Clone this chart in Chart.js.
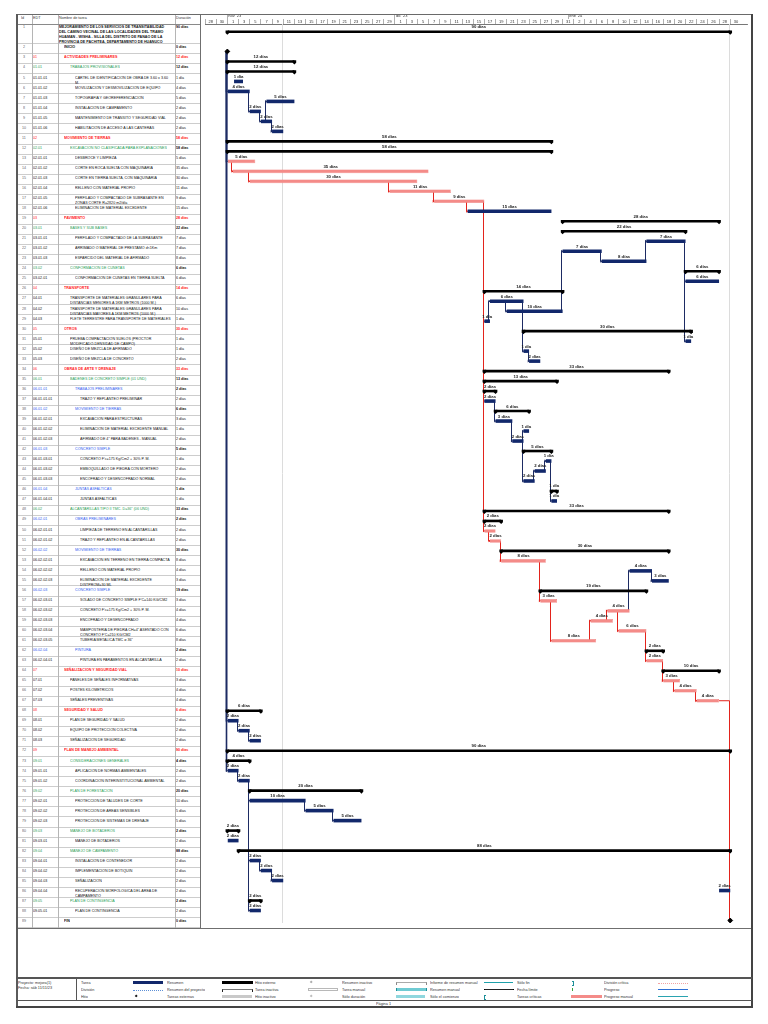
<!DOCTYPE html>
<html lang="es">
<head>
<meta charset="utf-8">
<title>Diagrama de Gantt</title>
<script src="https://cdn.jsdelivr.net/npm/chart.js@4.4.1/dist/chart.umd.min.js"></script>
<style>
  html, body { margin: 0; padding: 0; background: #fff; }
  body { font-family: "Liberation Sans", Arial, sans-serif; color: #222; }
  #page { position: relative; width: 768px; height: 1024px; overflow: hidden; }
  .ln { position: absolute; }
  .row { position: absolute; left: 16px; width: 184px; border-bottom: 1px solid #cdcdcd; box-sizing: border-box; }
  /* tiny text: drawn at double size and scaled down, so the browser keeps it this small */
  .cell, .hd, .lg { position: absolute; transform: scale(0.5); transform-origin: 0 0; white-space: pre; }
  .cell { top: 0.3px; font-size: 7.3px; line-height: 10px; }
  .hd { top: 15px; font-size: 7.4px; line-height: 10px; color: #333; }
  .lg { font-size: 7.6px; line-height: 10px; color: #333; }
  #gantt { position: absolute; left: 200px; top: 14px; }
</style>
</head>
<body>
<div id="page">
  <div id="table"></div>
  <div id="gantt"><canvas id="chart" width="552" height="914"></canvas></div>
  <div id="legend"></div>
</div>
<script>
// ---- data ----
const edt = ['', '', '01', '01.01', '01.01.01', '01.01.02', '01.01.03', '01.01.04', '01.01.05', '01.01.06',
  '02', '02.01', '02.01.01', '02.01.02', '02.01.03', '02.01.04', '02.01.05', '02.01.06',
  '03', '03.01', '03.01.01', '03.01.02', '03.01.03', '03.02', '03.02.01',
  '04', '04.01', '04.02', '04.03',
  '05', '05.01', '05.02', '05.03',
  '06', '06.01', '06.01.01', '06.01.01.01', '06.01.02', '06.01.02.01', '06.01.02.02', '06.01.02.03',
  '06.01.03', '06.01.03.01', '06.01.03.02', '06.01.03.03', '06.01.04', '06.01.04.01',
  '06.02', '06.02.01', '06.02.01.01', '06.02.01.02', '06.02.02', '06.02.02.01', '06.02.02.02', '06.02.02.03',
  '06.02.03', '06.02.03.01', '06.02.03.02', '06.02.03.03', '06.02.03.04', '06.02.03.05', '06.02.04', '06.02.04.01',
  '07', '07.01', '07.02', '07.03',
  '08', '08.01', '08.02', '08.03',
  '09', '09.01', '09.01.01', '09.01.02', '09.02', '09.02.01', '09.02.02', '09.02.03', '09.03', '09.03.01',
  '09.04', '09.04.01', '09.04.02', '09.04.03', '09.04.04', '09.05', '09.05.01', ''];

const taskNames = [
  'MEJORAMIENTO DE LOS SERVICIOS DE TRANSITABILIDAD\nDEL CAMINO VECINAL DE LAS LOCALIDADES DEL TRAMO\nHUAMAN - WISHA - SILLA DEL DISTRITO DE PANAO DE LA\nPROVINCIA DE PACHITEA, DEPARTAMENTO DE HUANUCO',
  'INICIO',
  'ACTIVIDADES PRELIMINARES',
  'TRABAJOS PROVISIONALES',
  'CARTEL DE IDENTIFICACION DE OBRA DE 3.60 x 3.60\nM.',
  'MOVILIZACION Y DESMOVILIZACION DE EQUIPO',
  'TOPOGRAFIA Y GEOREFERENCIACION',
  'INSTALACION DE CAMPAMENTO',
  'MANTENIMIENTO DE TRANSITO Y SEGURIDAD VIAL',
  'HABILITACION DE ACCESO A LAS CANTERAS',
  'MOVIMIENTO DE TIERRAS',
  'EXCAVACION NO CLASIFICADA PARA EXPLANACIONES',
  'DESBROCE Y LIMPIEZA',
  'CORTE EN ROCA SUELTA CON MAQUINARIA',
  'CORTE EN TIERRA SUELTA, CON MAQUINARIA',
  'RELLENO CON MATERIAL PROPIO',
  'PERFILADO Y COMPACTADO DE SUBRASANTE EN\nZONAS CORTE R=2820 m2/día',
  'ELIMINACION DE MATERIAL EXCEDENTE',
  'PAVIMENTO',
  'BASES Y SUB BASES',
  'PERFILADO Y COMPACTADO DE LA SUBRASANTE',
  'ARRIMADO O MATERIAL DE PRESTAMO d<1Km',
  'ESPARCIDO DEL MATERIAL DE AFIRMADO',
  'CONFORMACION DE CUNETAS',
  'CONFORMACION DE CUNETAS EN TIERRA SUELTA',
  'TRANSPORTE',
  'TRANSPORTE DE MATERIALES GRANULARES PARA\nDISTANCIAS MENORES A 1KM METROS (1000 M.)',
  'TRANSPORTE DE MATERIALES GRANULARES PARA\nDISTANCIAS MAYORES A 1KM METROS (1000 M.)',
  'FLETE TERRESTRE PARA TRANSPORTE DE MATERIALES',
  'OTROS',
  'PRUEBA COMPACTACION SUELOS (PROCTOR\nMODIFICADO-DENSIDAD DE CAMPO)',
  'DISEÑO DE MEZCLA DE AFIRMADO',
  'DISEÑO DE MEZCLA DE CONCRETO',
  'OBRAS DE ARTE Y DRENAJE',
  'BADENES DE CONCRETO SIMPLE (01 UND)',
  'TRABAJOS PRELIMINARES',
  'TRAZO Y REPLANTEO PRELIMINAR',
  'MOVIMIENTO DE TIERRAS',
  'EXCAVACION PARA ESTRUCTURAS',
  'ELIMINACION DE MATERIAL EXCEDENTE MANUAL',
  'AFIRMADO DE 4" PARA BADENES - MANUAL',
  'CONCRETO SIMPLE',
  "CONCRETO F'c=175 Kg/Cm2 + 30% P. M.",
  'EMBOQUILLADO DE PIEDRA CON MORTERO',
  'ENCOFRADO Y DESENCOFRADO NORMAL',
  'JUNTAS ASFALTICAS',
  'JUNTAS ASFALTICAS',
  'ALCANTARILLAS TIPO II TMC. D=36" (06 UND)',
  'OBRAS PRELIMINARES',
  'LIMPIEZA DE TERRENO EN ALCANTARILLAS',
  'TRAZO Y REPLANTEO EN ALCANTARILLAS',
  'MOVIMIENTO DE TIERRAS',
  'EXCAVACION EN TERRENO EN TIERRA COMPACTA',
  'RELLENO CON MATERIAL PROPIO',
  'ELIMINACION DE MATERIAL EXCEDENTE\nDISTPROM=30 ML',
  'CONCRETO SIMPLE',
  "SOLADO DE CONCRETO SIMPLE F'C=140 KG/CM2",
  "CONCRETO F'c=175 Kg/Cm2 + 30% P. M.",
  'ENCOFRADO Y DESENCOFRADO',
  "MAMPOSTERIA DE PIEDRA CH=4\" ASENTADO CON\nCONCRETO F'C=210 KG/CM2",
  'TUBERIA METALICA TMC ø 36"',
  'PINTURA',
  'PINTURA EN PARAMENTOS EN ALCANTARILLA',
  'SEÑALIZACION Y SEGURIDAD VIAL',
  'PANELES DE SEÑALES INFORMATIVAS',
  'POSTES KILOMETRICOS',
  'SEÑALES PREVENTIVAS',
  'SEGURIDAD Y SALUD',
  'PLAN DE SEGURIDAD Y SALUD',
  'EQUIPO DE PROTECCION COLECTIVA',
  'SEÑALIZACION DE SEGURIDAD',
  'PLAN DE MANEJO AMBIENTAL',
  'CONSIDERACIONES GENERALES',
  'APLICACION DE NORMAS AMBIENTALES',
  'COORDINACION INTERINSTITUCIONAL AMBIENTAL',
  'PLAN DE FORESTACION',
  'PROTECCION DE TALUDES DE CORTE',
  'PROTECCION DE AREAS SENSIBLES',
  'PROTECCION DE SISTEMAS DE DRENAJE',
  'MANEJO DE BOTADEROS',
  'MANEJO DE BOTADEROS',
  'MANEJO DE CAMPAMENTO',
  'INSTALACION DE CONTENEDOR',
  'IMPLEMENTACION DE BOTIQUIN',
  'SEÑALIZACION',
  'RECUPERACION MORFOLOGICA DEL AREA DE\nCAMPAMENTO',
  'PLAN DE CONTINGENCIA',
  'PLAN DE CONTINGENCIA',
  'FIN'
];

const durations = ['90 días', '0 días', '12 días', '12 días', '1 día', '4 días', '5 días', '2 días', '2 días', '2 días',
  '58 días', '58 días', '5 días', '35 días', '30 días', '11 días', '9 días', '15 días',
  '28 días', '22 días', '7 días', '7 días', '8 días', '6 días', '6 días',
  '14 días', '6 días', '10 días', '1 día',
  '30 días', '1 día', '1 día', '2 días',
  '33 días', '13 días', '2 días', '2 días', '6 días', '3 días', '1 día', '2 días', '5 días', '1 día', '2 días', '2 días', '1 día', '1 día',
  '33 días', '2 días', '2 días', '2 días', '30 días', '8 días', '4 días', '3 días', '19 días', '3 días', '4 días', '4 días', '6 días', '8 días', '2 días', '2 días',
  '10 días', '3 días', '4 días', '4 días',
  '6 días', '2 días', '2 días', '2 días',
  '90 días', '4 días', '2 días', '2 días', '20 días', '10 días', '5 días', '5 días', '2 días', '2 días', '88 días', '2 días', '2 días', '2 días', '2 días', '2 días', '2 días',
  '0 días'];

// start / finish of every bar, in days from the first project day
const starts = [0, 0, 0, 0, 1.2, 0, 7, 4, 6, 8,
  0, 0, 0, 1, 4, 29, 37, 43,
  60, 60, 75, 60, 67, 82, 82,
  46, 47, 50, 46,
  53, 82, 53, 54,
  46, 46, 46, 46, 48, 48, 53, 51, 53, 57, 55, 53, 58, 58,
  46, 46, 46, 47, 49, 49, 72, 76, 56, 56, 68, 65, 70, 58, 75, 75,
  78, 78, 80, 84,
  0, 0, 2, 4,
  0, 0, 0, 2, 4, 4, 14, 19, 0, 0, 2, 4, 6, 8, 88, 4, 4,
  90];
const ends = [90, 0, 12, 12, 2.8, 4, 12, 6, 8, 10,
  58, 58, 5, 36, 34, 40, 46, 58,
  88, 82, 82, 67, 75, 88, 88,
  60, 53, 60, 47,
  83, 83, 54, 56,
  79, 59, 48, 48, 54, 51, 54, 53, 58, 58, 57, 55, 59, 59,
  79, 49, 48, 49, 79, 57, 76, 79, 75, 59, 72, 69, 75, 66, 78, 78,
  88, 81, 84, 88,
  6, 2, 4, 6,
  90, 4, 2, 4, 24, 14, 19, 24, 2, 2, 90, 6, 8, 10, 90, 6, 6,
  90];

const criticalIds = [13, 14, 15, 16, 17, 50, 51, 53, 57, 58, 59, 60, 61, 63, 65, 66, 67];

const links = [[2, 6], [2, 13], [2, 69], [2, 74], [6, 8], [8, 9], [9, 7], [9, 10],
  [17, 29], [29, 27], [27, 28], [27, 32], [32, 33], [28, 22], [22, 23], [23, 21], [21, 25], [21, 31],
  [17, 37], [37, 39], [39, 41], [41, 40], [41, 45], [45, 44], [44, 43], [43, 47],
  [58, 54], [54, 55], [69, 70], [70, 71], [74, 75], [75, 77], [77, 78], [78, 79],
  [75, 83], [83, 84], [84, 85], [75, 88], [86, 89]];
const criticalLinks = [[13, 14], [14, 15], [15, 16], [16, 17], [17, 18], [17, 50], [50, 51], [51, 53],
  [53, 57], [57, 61], [61, 59], [59, 58], [58, 60], [60, 63], [63, 65], [65, 66], [66, 67], [67, 89]];

const dayTicks = ['28', '30',
  '1', '3', '5', '7', '9', '11', '13', '15', '17', '19', '21', '23', '25', '27', '29',
  '1', '3', '5', '7', '9', '11', '13', '15', '17', '19', '21', '23', '25', '27', '29', '31',
  '2', '4', '6', '8', '10', '12', '14', '16', '18', '20', '22', '24', '26', '28', '30'];
const monthLabels = ["nov '23", "dic '23", "ene '24"];
const monthStarts = [0, 30, 61];
const markerDays = [9.7, 89.8];

// ---- layout ----
const FONT = '"Liberation Sans", Arial, sans-serif';
const NAVY = '#12286b';
const SALMON = '#f48b88';
const RED = '#e3231c';
const SLOTS = 90;
const CANVAS_H = 914, HEADER_H = 10;
const ROW_H = (CANVAS_H - HEADER_H) / SLOTS;
const TABLE_TOP = 24;
const X_MIN = -4, X_MAX = 93;
const PX_DAY = 552 / (X_MAX - X_MIN);

const N = taskNames.length;
const level = edt.map((e, i) => e === '' ? (i === 0 ? 0 : 1) : e.split('.').length);
const isSummary = level.map((l, i) => i < N - 1 && level[i + 1] > l);
const isMilestone = durations.map(d => d === '0 días');
const ids = taskNames.map((_, i) => i + 1);

const slotOf = id => id === 1 ? 0 : id;
const barY = id => slotOf(id) + (id === 1 ? 0.78 : 0.75);
const labelY = id => slotOf(id) + 0.28;

function nameColor(i) {
  if (!isSummary[i] || level[i] === 0) return '#111';
  return level[i] === 1 ? '#ff1a1a' : level[i] === 2 ? '#1f9d55' : '#2f5cf0';
}

// ---- table (left side) ----
const page = document.getElementById('page');
const table = document.getElementById('table');
function add(parent, cls, style, text) {
  const d = document.createElement('div');
  if (cls) d.className = cls;
  Object.assign(d.style, style);
  if (text !== undefined) d.textContent = text;
  parent.appendChild(d);
  return d;
}
[['Id', { left: '21px' }], ['EDT', { left: '33px' }],
 ['Nombre de tarea', { left: '59px' }], ['Duración', { left: '176px' }]]
  .forEach(([t, s]) => add(table, 'hd', s, t));

ids.forEach(id => {
  const i = id - 1;
  const span = id === 1 ? 2 : 1;
  const r = add(table, 'row', { top: (TABLE_TOP + slotOf(id) * ROW_H) + 'px', height: (span * ROW_H) + 'px' });
  const col = nameColor(i);
  const bold = level[i] <= 1 && (isSummary[i] || isMilestone[i]);
  const idW = String(id).length * 2;
  add(r, 'cell', { left: (8 - idW / 2) + 'px', color: '#666' }, String(id));
  add(r, 'cell', { left: '17px', color: col }, edt[i]);
  add(r, 'cell', { left: (43 + level[i] * 5.3) + 'px', color: col, fontWeight: bold ? 'bold' : 'normal' }, taskNames[i]);
  const dCol = isSummary[i] && level[i] === 1 ? '#ff1a1a' : '#111';
  add(r, 'cell', { left: '160px', color: dCol, fontWeight: (isSummary[i] || isMilestone[i]) ? 'bold' : 'normal' }, durations[i]);
});

// frame and grid lines
const lines = [
  [32, 14, 0.8, 914, '#b5b5b5'], [58, 14, 0.8, 914, '#b5b5b5'], [175, 14, 0.8, 914, '#b5b5b5'],
  [16, 24, 184, 1, '#8a8a8a'], [200, 14, 1, 914, '#6f6f6f'],
  [16, 927.5, 736, 1, '#6f6f6f'],
  [16, 14, 736, 1, '#6a6a6a'], [16, 14, 1.5, 994, '#5a5a5a'], [750.5, 14, 2, 994, '#444'],
  [16, 1006, 736, 2, '#444'], [16, 977, 736, 1.5, '#555'], [16, 999.5, 736, 1.3, '#555'],
  [76, 977, 1, 23, '#555']
];
lines.forEach(([x, y, w, h, c]) => add(page, 'ln', { left: x + 'px', top: y + 'px', width: w + 'px', height: h + 'px', background: c, zIndex: 3 }));

// ---- Gantt (Chart.js) ----
const barData = list => list.map(id => ({ x: [starts[id - 1], ends[id - 1]], y: barY(id) }));
const summaryIds = ids.filter(id => isSummary[id - 1]);
const critIds = ids.filter(id => criticalIds.includes(id));
const taskIds = ids.filter(id => !isSummary[id - 1] && !isMilestone[id - 1] && !criticalIds.includes(id));
const msIds = ids.filter(id => isMilestone[id - 1]);

function trimScale(s, h) { s.height = h; s.paddingLeft = 0; s.paddingRight = 0; }

const ganttDecor = {
  id: 'ganttDecor',
  beforeDatasetsDraw(chart) {
    const { ctx, chartArea, scales: { x, y } } = chart;
    ctx.save();
    ctx.strokeStyle = '#dcdcdc';
    ctx.lineWidth = 1;
    markerDays.forEach(d => {
      const px = Math.round(x.getPixelForValue(d)) + 0.5;
      ctx.beginPath(); ctx.moveTo(px, chartArea.top); ctx.lineTo(px, chartArea.bottom); ctx.stroke();
    });
    const drawLink = ([a, b], color) => {
      const xe = x.getPixelForValue(ends[a - 1]);
      const xs = x.getPixelForValue(starts[b - 1]);
      const ya = y.getPixelForValue(barY(a));
      const yb = y.getPixelForValue(barY(b));
      const vx = Math.round(xs - 1.5) + 0.5;
      ctx.strokeStyle = color; ctx.fillStyle = color;
      ctx.lineWidth = isMilestone[a - 1] ? 1.6 : 1;
      ctx.beginPath();
      if (xe < vx) { ctx.moveTo(xe, ya); ctx.lineTo(vx, ya); } else { ctx.moveTo(vx, ya); }
      ctx.lineTo(vx, yb); ctx.lineTo(xs, yb);
      ctx.stroke();
      ctx.beginPath();
      ctx.moveTo(xs + 0.8, yb); ctx.lineTo(xs - 1.4, yb - 1.4); ctx.lineTo(xs - 1.4, yb + 1.4);
      ctx.closePath(); ctx.fill();
    };
    links.forEach(l => drawLink(l, '#1d2b63'));
    criticalLinks.forEach(l => drawLink(l, RED));
    ctx.restore();
  },
  afterDatasetsDraw(chart) {
    const { ctx, scales: { x, y } } = chart;
    ctx.save();
    // summary end caps
    ctx.fillStyle = '#000';
    summaryIds.forEach(id => {
      const yc = y.getPixelForValue(barY(id));
      [starts[id - 1], ends[id - 1]].forEach(v => {
        const px = x.getPixelForValue(v);
        ctx.beginPath();
        ctx.moveTo(px - 1.8, yc - 1.3); ctx.lineTo(px + 1.8, yc - 1.3); ctx.lineTo(px + 1.8, yc + 1.2);
        ctx.lineTo(px, yc + 3); ctx.lineTo(px - 1.8, yc + 1.2);
        ctx.closePath(); ctx.fill();
      });
    });
    // duration labels
    ctx.font = 'bold 4.3px ' + FONT;
    ctx.fillStyle = '#222';
    ctx.textAlign = 'center';
    ctx.textBaseline = 'middle';
    ids.forEach(id => {
      if (isMilestone[id - 1]) return;
      const cx = x.getPixelForValue((starts[id - 1] + ends[id - 1]) / 2);
      ctx.fillText(durations[id - 1], cx, y.getPixelForValue(labelY(id)));
    });
    ctx.restore();
  }
};

Chart.defaults.font.family = FONT;
new Chart(document.getElementById('chart'), {
  type: 'bar',
  data: {
    datasets: [
      { label: 'Resumen', data: barData(summaryIds), backgroundColor: '#000', maxBarThickness: 2.6, grouped: false, xAxisID: 'x', yAxisID: 'y' },
      { label: 'Tarea', data: barData(taskIds), backgroundColor: NAVY, maxBarThickness: 3.6, grouped: false, xAxisID: 'x', yAxisID: 'y' },
      { label: 'Tareas críticas', data: barData(critIds), backgroundColor: SALMON, borderColor: '#ee7370', borderWidth: 0.5, maxBarThickness: 3.6, grouped: false, xAxisID: 'x', yAxisID: 'y' },
      { type: 'scatter', label: 'Hito', data: msIds.map(id => ({ x: starts[id - 1], y: barY(id) })), pointStyle: 'rectRot', pointRadius: 2.4, backgroundColor: '#000', borderColor: '#000', xAxisID: 'x', yAxisID: 'y' }
    ]
  },
  options: {
    indexAxis: 'y',
    responsive: false,
    animation: false,
    layout: { padding: 0 },
    plugins: { legend: { display: false }, tooltip: { enabled: false } },
    scales: {
      x: {
        type: 'linear', position: 'top', min: X_MIN, max: X_MAX,
        afterBuildTicks: s => { s.ticks = dayTicks.map((_, i) => ({ value: X_MIN + 2 * i })); },
        afterFit: s => trimScale(s, 5),
        ticks: { autoSkip: false, maxRotation: 0, padding: -5, labelOffset: PX_DAY, color: '#333', font: { size: 4 }, callback: (v, i) => dayTicks[i] },
        grid: { drawOnChartArea: false, tickLength: 5, color: '#9c9c9c', lineWidth: 0.8 },
        border: { display: true, color: '#777', width: 1 }
      },
      xm: {
        type: 'linear', position: 'top', weight: 1, min: X_MIN, max: X_MAX,
        afterBuildTicks: s => { s.ticks = monthStarts.map(v => ({ value: v })); },
        afterFit: s => trimScale(s, 5),
        ticks: { autoSkip: false, maxRotation: 0, align: 'start', padding: -4.4, labelOffset: 1, color: '#333', font: { size: 4 }, callback: (v, i) => monthLabels[i] },
        grid: { drawOnChartArea: false, tickLength: 5, color: '#9c9c9c', lineWidth: 0.8 },
        border: { display: false }
      },
      y: { type: 'linear', min: 0, max: SLOTS, reverse: true, offset: false, display: false }
    }
  },
  plugins: [ganttDecor]
});

// ---- legend strip ----
const legend = document.getElementById('legend');
add(legend, 'lg', { left: '18px', top: '979.5px' }, 'Proyecto: mejora(1)\nFecha: sáb 11/11/23');
const legendCols = [
  [['Tarea', 'task'], ['División', 'split'], ['Hito', 'milestone']],
  [['Resumen', 'summary'], ['Resumen del proyecto', 'projsum'], ['Tareas externas', 'external']],
  [['Hito externo', 'extms'], ['Tarea inactiva', 'inactive'], ['Hito inactivo', 'inactms']],
  [['Resumen inactivo', 'inactsum'], ['Tarea manual', 'manual'], ['Sólo duración', 'duronly']],
  [['Informe de resumen manual', 'rollup'], ['Resumen manual', 'mansum'], ['Sólo el comienzo', 'startonly']],
  [['Sólo fin', 'finonly'], ['Fecha límite', 'deadline'], ['Tareas críticas', 'critical']],
  [['División crítica', 'critsplit'], ['Progreso', 'progress'], ['Progreso manual', 'manprog']]
];
const legendLabelX = [80.7, 167, 255, 342, 430, 517, 604];
const legendSymX = [133, 222, 308, 396, 484, 571, 658];
const legendRowY = [982.5, 989.5, 996.5];

function symbol(type, x, yc) {
  const bar = (w, h, st) => add(legend, 'ln', Object.assign({ left: x + 'px', top: (yc - h / 2) + 'px', width: w + 'px', height: h + 'px' }, st));
  const dia = (st) => add(legend, 'ln', Object.assign({ left: (x + 2) + 'px', top: (yc - 1.2) + 'px', width: '2.4px', height: '2.4px', transform: 'rotate(45deg)' }, st));
  switch (type) {
    case 'task': bar(30, 3, { background: NAVY }); break;
    case 'split': bar(30, 0, { borderTop: '1px dotted #5d8fd6' }); break;
    case 'milestone': dia({ background: '#111' }); break;
    case 'summary': bar(30, 2.5, { background: '#000', borderLeft: '1px solid #000' }); break;
    case 'projsum': bar(29, 2, { borderTop: '1px solid #777', borderLeft: '1px solid #222', borderRight: '1px solid #222' }); break;
    case 'external': bar(30, 3, { background: '#c9c9c9' }); break;
    case 'extms': dia({ background: '#aaa' }); break;
    case 'inactive': bar(30, 2.5, { border: '0.6px solid #b8b8b8', boxSizing: 'border-box' }); break;
    case 'inactms': dia({ border: '0.5px solid #bbb', boxSizing: 'border-box' }); break;
    case 'inactsum': bar(29, 2, { borderTop: '0.6px solid #aaa', borderLeft: '0.6px solid #888', borderRight: '0.6px solid #888' }); break;
    case 'manual': bar(29, 3, { background: '#6fcbd3', borderLeft: '1px solid #1d8f99', borderRight: '1px solid #1d8f99' }); break;
    case 'duronly': bar(29, 3, { background: '#8fd7de' }); break;
    case 'rollup': bar(29, 1.2, { background: '#1ea0aa' }); break;
    case 'mansum': bar(28, 1.4, { background: '#222', borderLeft: '1px solid #000', borderRight: '1px solid #000' }); break;
    case 'startonly': add(legend, 'ln', { left: x + 'px', top: (yc - 1.5) + 'px', width: '1px', height: '3px', borderLeft: '1px solid #1d8f99', borderTop: '0.5px solid #1d8f99', borderBottom: '0.5px solid #1d8f99' }); break;
    case 'finonly': add(legend, 'ln', { left: (x + 1) + 'px', top: (yc - 1.6) + 'px', width: '1px', height: '3px', borderRight: '1px solid #1d8f99', borderTop: '0.5px solid #1d8f99', borderBottom: '0.5px solid #1d8f99' }); break;
    case 'deadline': add(legend, 'ln', { left: (x + 1) + 'px', top: (yc - 1.5) + 'px', width: '1.2px', height: '3px', background: '#3ba13b' }); break;
    case 'critical': bar(31, 3, { background: SALMON }); break;
    case 'critsplit': bar(30, 0, { borderTop: '1px dotted #f3a3a3' }); break;
    case 'progress': bar(30, 1.3, { background: '#2f6fd6' }); break;
    case 'manprog': bar(30, 0.8, { background: '#2aa3b0' }); break;
  }
}
legendCols.forEach((col, c) => col.forEach(([label, type], r) => {
  add(legend, 'lg', { left: legendLabelX[c] + 'px', top: (legendRowY[r] - 2.5) + 'px' }, label);
  symbol(type, legendSymX[c], legendRowY[r]);
}));
add(legend, 'lg', { left: '376px', top: '1001px' }, 'Página 1');
</script>
</body>
</html>
